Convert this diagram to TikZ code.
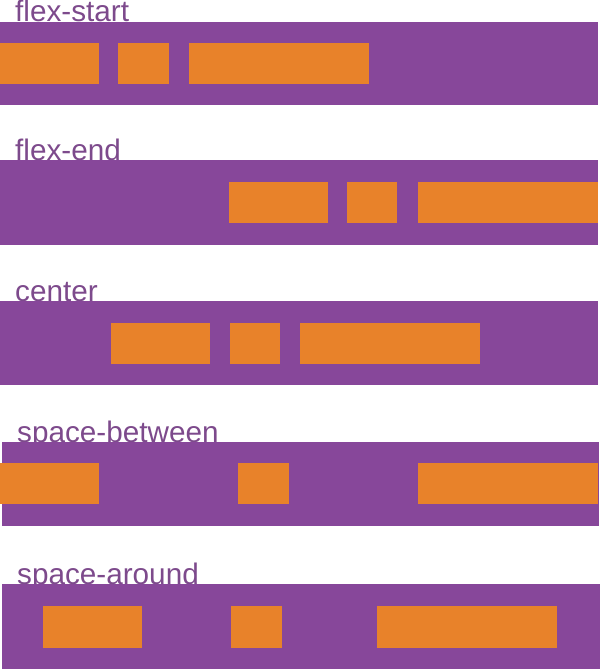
\documentclass[tikz,border=0pt]{standalone}
\usepackage{fontspec}
\setmainfont{Liberation Sans}
\definecolor{barpurple}{HTML}{87479A}
\definecolor{itemorange}{HTML}{E8822A}
\definecolor{labelpurple}{HTML}{7D4A8C}
\begin{document}
\begin{tikzpicture}[x=1pt,y=-1pt,
  lbl/.style={anchor=base west,inner sep=0pt,text=labelpurple,font=\fontsize{29.7}{30}\selectfont},
  bar/.style={fill=barpurple,draw=none},
  item/.style={fill=itemorange,draw=none}]
\useasboundingbox (0,0) rectangle (600,669);
% labels (drawn first, bars cover descenders)
\node[lbl] (t1) at (15,22) {flex-start};
\node[lbl] (t2) at (15,160) {flex-end};
\node[lbl] (t3) at (15,301) {center};
\node[lbl] (t4) at (17,442) {space-between};
\node[lbl] (t5) at (17,584) {space-around};
% containers
\path[bar] (0,22) rectangle (598,105);
\path[bar] (0,160) rectangle (598,245);
\path[bar] (0,301) rectangle (598,385);
\path[bar] (2,442) rectangle (599,526);
\path[bar] (2,584) rectangle (600,669);
% flex-start
\path[item] (0,43) rectangle (99,84);
\path[item] (118,43) rectangle (169,84);
\path[item] (189,43) rectangle (369,84);
% flex-end
\path[item] (229,182) rectangle (328,223);
\path[item] (347,182) rectangle (397,223);
\path[item] (418,182) rectangle (598,223);
% center
\path[item] (111,323) rectangle (210,364);
\path[item] (230,323) rectangle (280,364);
\path[item] (300,323) rectangle (480,364);
% space-between
\path[item] (0,463) rectangle (99,504);
\path[item] (238,463) rectangle (289,504);
\path[item] (418,463) rectangle (598,504);
% space-around
\path[item] (43,606) rectangle (142,648);
\path[item] (231,606) rectangle (282,648);
\path[item] (377,606) rectangle (557,648);
\end{tikzpicture}
\end{document}
